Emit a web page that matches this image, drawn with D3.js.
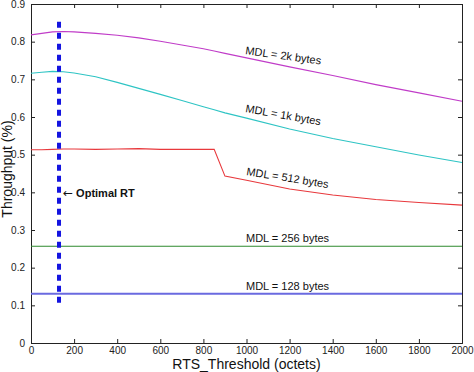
<!DOCTYPE html>
<html>
<head>
<meta charset="utf-8">
<script src="https://cdn.jsdelivr.net/npm/d3@7"></script>
<style>
  body { margin: 0; background: #fff; }
  svg { display: block; }
  .axis text { font-family: "Liberation Sans", Arial, sans-serif; font-size: 10px; fill: #222; }
  .axis path, .axis line { stroke: #222; }
</style>
</head>
<body>
<script>
// RTS threshold values (octets)
var rts = [0, 50, 100, 150, 200, 300, 400, 500, 600, 700, 800, 850, 900, 1000, 1200, 1400, 1600, 1800, 2000];

// throughput for each MDL
var mdl2k = [0.818, 0.822, 0.826, 0.827, 0.826, 0.822, 0.817, 0.810, 0.801, 0.791, 0.781, 0.775, 0.769, 0.757, 0.733, 0.710, 0.686, 0.664, 0.642];
var mdl1k = [0.716, 0.719, 0.721, 0.720, 0.717, 0.707, 0.692, 0.676, 0.660, 0.644, 0.627, 0.619, 0.611, 0.597, 0.568, 0.543, 0.521, 0.499, 0.479];
var mdl512 = [0.513, 0.513, 0.514, 0.515, 0.515, 0.514, 0.515, 0.516, 0.514, 0.514, 0.514, 0.514, 0.443, 0.432, 0.409, 0.393, 0.381, 0.373, 0.366];
var mdl256 = [0.257, 0.257, 0.257, 0.257, 0.257, 0.257, 0.257, 0.257, 0.257, 0.257, 0.257, 0.257, 0.257, 0.257, 0.257, 0.257, 0.257, 0.257, 0.257];
var mdl128 = [0.131, 0.131, 0.131, 0.131, 0.131, 0.131, 0.131, 0.131, 0.131, 0.131, 0.131, 0.131, 0.131, 0.131, 0.131, 0.131, 0.131, 0.131, 0.131];

var labels = ["MDL = 2k bytes", "MDL = 1k bytes", "MDL = 512 bytes", "MDL = 256 bytes", "MDL = 128 bytes"];
var xTicks = [0, 200, 400, 600, 800, 1000, 1200, 1400, 1600, 1800, 2000];
var yTicks = [0, 0.1, 0.2, 0.3, 0.4, 0.5, 0.6, 0.7, 0.8, 0.9];

var optimalRT = 130;
var optimalRange = [0.1, 0.853];

var w = 474, h = 372;
var padL = 31, padT = 4, padR = 462, padB = 343;

var svg = d3.select("body").append("svg").attr("width", w).attr("height", h);

var x = d3.scaleLinear().domain([0, 2000]).range([padL, padR]);
var y = d3.scaleLinear().domain([0, 0.9]).range([padB, padT]);

//axes (ticks inward, box on four sides)
svg.append("g").attr("class", "axis")
  .attr("transform", "translate(0," + padB + ")")
  .call(d3.axisBottom(x).tickValues(xTicks).tickSize(-4).tickPadding(4).tickFormat(d3.format("d")));
svg.append("g").attr("class", "axis")
  .attr("transform", "translate(0," + padT + ")")
  .call(d3.axisTop(x).tickValues(xTicks).tickSize(-4).tickFormat(""));
svg.append("g").attr("class", "axis")
  .attr("transform", "translate(" + padL + ",0)")
  .call(d3.axisLeft(y).tickValues(yTicks).tickSize(-4).tickPadding(6).tickFormat(function(d) { return d === 0 ? "0" : d3.format(".1f")(d); }));
svg.append("g").attr("class", "axis")
  .attr("transform", "translate(" + padR + ",0)")
  .call(d3.axisRight(y).tickValues(yTicks).tickSize(-4).tickFormat(""));

//series lines
var series = [mdl2k, mdl1k, mdl512, mdl256, mdl128];
var colors = ["#c03cc8", "#2ec4c4", "#e8383c", "#2e8a2e", "#6a6ae0"];
var line = d3.line().x(function(d, i) { return x(rts[i]); }).y(function(d) { return y(d); });

series.forEach(function(s, k) {
  svg.append("path")
    .datum(s)
    .attr("d", line)
    .attr("fill", "none")
    .attr("stroke", colors[k])
    .attr("stroke-width", k == 4 ? 2 : 1.1);
});

//optimal RT dashed line
svg.append("line")
  .attr("x1", x(optimalRT)).attr("x2", x(optimalRT))
  .attr("y1", y(optimalRange[1])).attr("y2", y(optimalRange[0]))
  .attr("stroke", "#1414e0")
  .attr("stroke-width", 4)
  .attr("stroke-dasharray", "6,5");

var opt = svg.append("text")
  .attr("x", x(optimalRT) + 4)
  .attr("y", 197)
  .attr("font-family", "Liberation Sans, Arial, sans-serif")
  .attr("font-size", "11px")
  .attr("fill", "#111");
opt.append("tspan")
  .text("\u2190")
  .attr("font-family", "DejaVu Sans, sans-serif")
  .attr("font-size", "12px");
opt.append("tspan")
  .text(" Optimal RT")
  .attr("font-weight", "bold");

//curve labels
var labelPos = [[245, 54, 8], [245, 112, 10], [246, 175, 9], [246, 242, 0], [246, 290, 0]];
labels.forEach(function(t, k) {
  svg.append("text")
    .text(t)
    .attr("transform", "translate(" + labelPos[k][0] + "," + labelPos[k][1] + ") rotate(" + labelPos[k][2] + ")")
    .attr("font-family", "Liberation Sans, Arial, sans-serif")
    .attr("font-size", "11px")
    .attr("fill", "#111");
});

//axis titles
svg.append("text")
  .text("RTS_Threshold (octets)")
  .attr("x", (padL + padR) / 2)
  .attr("y", 369)
  .attr("text-anchor", "middle")
  .attr("font-family", "Liberation Sans, Arial, sans-serif")
  .attr("font-size", "14px")
  .attr("fill", "#111");

svg.append("text")
  .text("Throughput (%)")
  .attr("transform", "translate(12," + 169 + ") rotate(-90)")
  .attr("text-anchor", "middle")
  .attr("font-family", "Liberation Sans, Arial, sans-serif")
  .attr("font-size", "14px")
  .attr("fill", "#111");
</script>
</body>
</html>
